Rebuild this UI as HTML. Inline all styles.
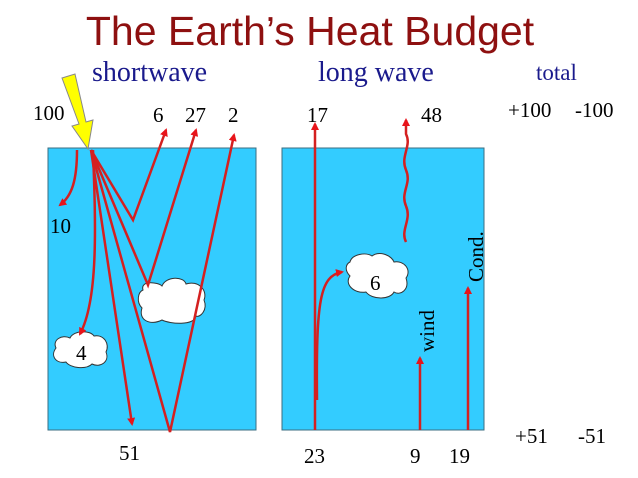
<!DOCTYPE html>
<html><head><meta charset="utf-8"><style>
html,body{margin:0;padding:0;background:#fff;}
svg{display:block;}
.t{font-family:"Liberation Serif",serif;}
</style></head><body>
<svg width="638" height="478" viewBox="0 0 638 478">
<defs>
<marker id="ah" markerWidth="8" markerHeight="8" refX="6" refY="4" orient="auto" markerUnits="userSpaceOnUse">
<path d="M0,0 L8,4 L0,8 Z" fill="#e8141a"/></marker>
</defs>
<text x="310" y="45" text-anchor="middle" font-family="Liberation Sans, sans-serif" font-size="41" fill="#8e1010">The Earth’s Heat Budget</text>
<g class="t" fill="#1a1a8c" font-size="28">
<text x="92" y="81">shortwave</text>
<text x="318" y="81">long wave</text>
<text x="536" y="80" font-size="23">total</text>
</g>
<rect x="48" y="148" width="208" height="282" fill="#33ccff" stroke="#3b6e80" stroke-width="1"/>
<rect x="282" y="148" width="202" height="282" fill="#33ccff" stroke="#3b6e80" stroke-width="1"/>
<path d="M143,290 C140,280 158,282 162,286 C166,276 184,276 186,284 C198,280 208,290 204,300 C208,310 200,318 196,316 C194,326 170,324 162,320 C150,326 138,320 142,308 C136,302 138,292 143,290 Z" fill="#fff" stroke="#333" stroke-width="1"/>
<path d="M56,348 C52,340 62,334 70,338 C74,330 90,330 94,336 C104,334 110,344 106,352 C110,362 100,368 92,364 C86,370 70,368 66,362 C56,364 50,356 56,348 Z" fill="#fff" stroke="#333" stroke-width="1"/>
<path d="M350,262 C352,254 366,252 372,256 C380,250 392,256 394,262 C404,260 412,270 406,278 C410,290 400,296 394,292 C390,300 372,300 366,292 C354,294 344,284 350,276 C344,270 346,264 350,262 Z" fill="#fff" stroke="#333" stroke-width="1"/>
<g stroke="#d42020" stroke-width="2.5" fill="none" marker-end="url(#ah)">
<path d="M91,150 L133,220 L166,130"/>
<path d="M91,150 L148,285 L196,130"/>
<path d="M91,150 L170,432 L234,135"/>
<path d="M91,150 L132,424"/>
<path d="M93,150 C96,230 98,300 80,334"/>
<path d="M77,150 C77,180 72,196 60,205"/>
<path d="M315,430 L315,124"/>
<path d="M317,400 C316,300 320,276 342,272"/>
<path d="M406,242 C400,230 412,220 406,206 C400,192 412,184 406,170 C400,156 412,146 406,134 L406,120"/>
<path d="M420,430 L420,358"/>
<path d="M468,430 L468,288"/>
</g>
<polygon points="62,78 75,74 86,122 93,120 88,149 72,126 79,124" fill="#ffff00" stroke="#888" stroke-width="1"/>
<g class="t" fill="#000" font-size="21">
<text x="33" y="120">100</text>
<text x="153" y="122">6</text>
<text x="185" y="122">27</text>
<text x="228" y="122">2</text>
<text x="307" y="122">17</text>
<text x="421" y="122">48</text>
<text x="508" y="117">+100</text>
<text x="575" y="117">-100</text>
<text x="50" y="233">10</text>
<text x="76" y="360">4</text>
<text x="370" y="290">6</text>
<text x="119" y="460">51</text>
<text x="304" y="463">23</text>
<text x="410" y="463">9</text>
<text x="449" y="463">19</text>
<text x="515" y="443">+51</text>
<text x="578" y="443">-51</text>
<text transform="translate(434,352) rotate(-90)">wind</text>
<text transform="translate(483,282) rotate(-90)">Cond.</text>
</g>
</svg>
</body></html>
